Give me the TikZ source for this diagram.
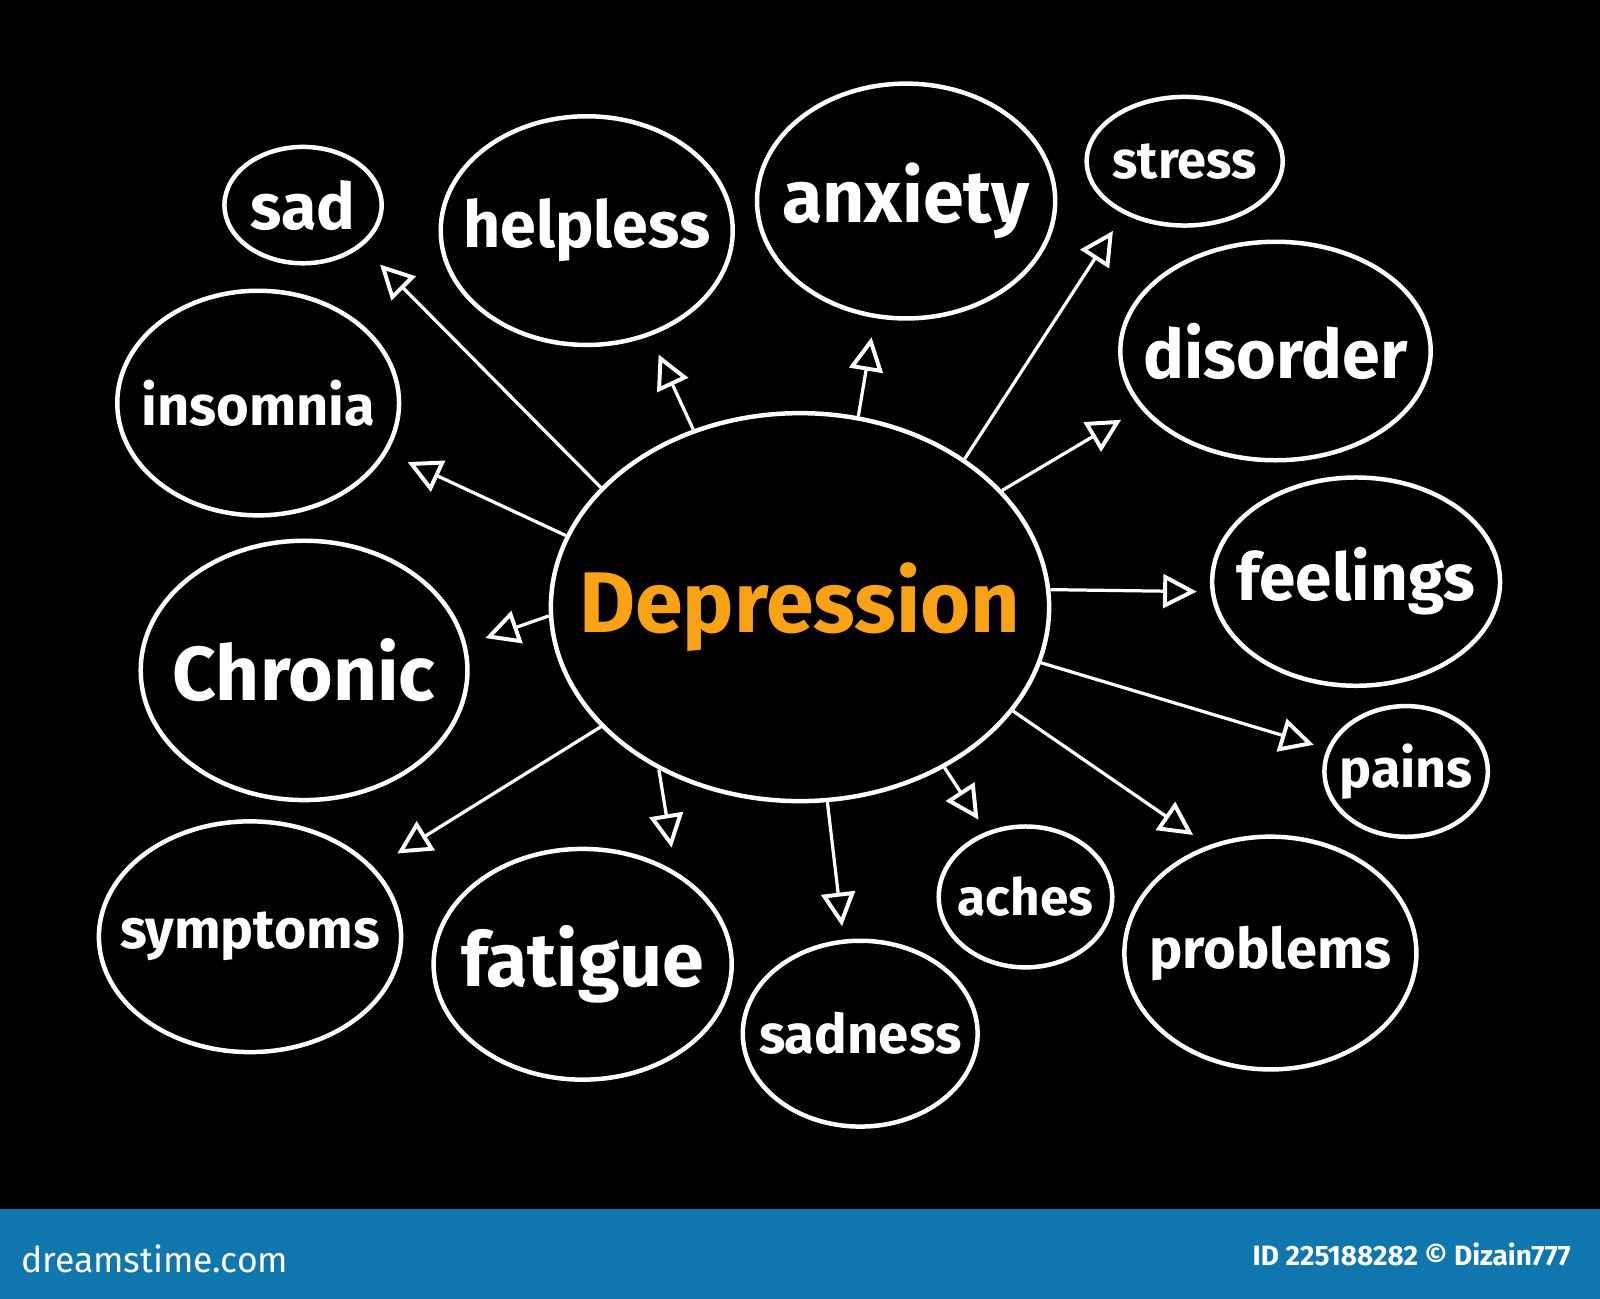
\documentclass[tikz,border=0pt]{standalone}
\usepackage{fontspec}
\setmainfont{Fira Sans}
\usetikzlibrary{shapes.geometric,arrows.meta}

\definecolor{barblue}{RGB}{16,118,174}
\definecolor{deporange}{RGB}{250,162,22}

\tikzset{
  bubble/.style={draw=white, line width=1.25pt, ellipse, inner sep=0pt, text=white},
  arr/.style={draw=white, line width=0.9pt,
    -{Triangle[open, length=3.3mm, width=3.3mm, line width=1.1pt]}},
}
% word of a given size that does not widen its bubble
\newcommand{\word}[2]{\makebox[0pt]{\fontsize{#1}{#1}\selectfont\bfseries #2}}

\begin{document}
\begin{tikzpicture}[x=0.01cm, y=-0.01cm]
    % Black page and the blue bar at the bottom
    \fill[black] (0,0) rectangle (1568,1273);
    \fill[barblue] (0,1185) rectangle (1568,1273);
    \node[text=white, anchor=west, inner sep=0pt, font=\fontsize{9.9}{9.9}\selectfont] (site) at (20,1234) {dreamstime.com};
    \node[text=white, anchor=east, inner sep=0pt, font=\fontsize{7.8}{7.8}\selectfont\bfseries] (credit) at (1540,1229) {ID 225188282 © Dizain777};

    % The central bubble
    \node[bubble, minimum width=4.88cm, minimum height=3.80cm, text=deporange] (dep) at (784,595) {\word{24}{Depression}};

    % The bubbles round it
    \node[bubble, minimum width=1.54cm, minimum height=1.14cm] (sad) at (297,201) {\word{18}{sad}};
    \node[bubble, minimum width=2.86cm, minimum height=2.24cm] (helpless) at (575,226) {\word{18}{helpless}};
    \node[bubble, minimum width=2.92cm, minimum height=2.30cm] (anxiety) at (888,197) {\word{20.5}{anxiety}};
    \node[bubble, minimum width=1.92cm, minimum height=1.26cm] (stress) at (1161,158) {\word{14.6}{stress}};
    \node[bubble, minimum width=3.04cm, minimum height=2.14cm] (disorder) at (1250,344) {\word{19}{disorder}};
    \node[bubble, minimum width=2.76cm, minimum height=2.20cm] (insomnia) at (253,395) {\word{15.6}{insomnia}};
    \node[bubble, minimum width=2.82cm, minimum height=2.04cm] (feelings) at (1329,570) {\word{18.3}{feelings}};
    \node[bubble, minimum width=3.20cm, minimum height=2.54cm] (chronic) at (298,657) {\word{21.3}{Chronic}};
    \node[bubble, minimum width=1.60cm, minimum height=1.28cm] (pains) at (1378,756) {\word{15}{pains}};
    \node[bubble, minimum width=2.96cm, minimum height=2.26cm] (symptoms) at (245,918) {\word{15.4}{symptoms}};
    \node[bubble, minimum width=2.92cm, minimum height=2.26cm] (fatigue) at (571,945) {\word{21}{fatigue}};
    \node[bubble, minimum width=1.70cm, minimum height=1.38cm] (aches) at (1005,879) {\word{14.3}{aches}};
    \node[bubble, minimum width=2.30cm, minimum height=1.82cm] (sadness) at (843,1013) {\word{15.2}{sadness}};
    \node[bubble, minimum width=2.86cm, minimum height=2.28cm] (problems) at (1245,934) {\word{15.6}{problems}};

    % Arrows out of the central bubble: start angle / target / end angle / gap
    \foreach \a/\t/\b/\g in {149/sad/325/0.25, 121/helpless/301/0.20, 73/anxiety/255/0.19,
        42/stress/221/0.195, 30/disorder/203/0.22, 163/insomnia/339/0.22,
        4/feelings/184/0.135, 182/chronic/9/0.195, 347.5/pains/164/0.135,
        211/symptoms/29/0.265, 229/fatigue/45/0.235, 278/sadness/100/0.13,
        312/aches/121/0.14, 334/problems/120/0.18}
        \draw[arr, shorten >=\g cm] (dep.\a) -- (\t.\b);
\end{tikzpicture}
\end{document}
